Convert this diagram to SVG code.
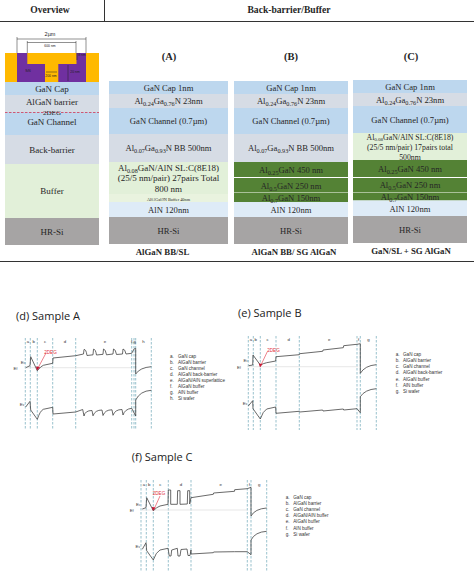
<svg xmlns="http://www.w3.org/2000/svg" width="474" height="572" viewBox="0 0 474 572">
<style>
text{font-family:"Liberation Serif","Times New Roman",serif;fill:#262626;text-anchor:middle}
.t{font-size:8.6px}
.o{font-size:9px}
.b{font-size:8.8px;font-weight:bold}
.h{font-size:9.6px;font-weight:bold}
.p{font-size:10.5px;font-weight:bold}
.s{font-size:6.2px;baseline-shift:-1.6px}
.cap{fill:#bdd7ee}.bar{fill:#d6dce5}.buf{fill:#e2f0d9}.aln{fill:#deebf7}.si{fill:#a6a4a4}.grn{fill:#548235}
.rule{stroke:#333;stroke-width:1;fill:none}
.title{font-family:"Open Sans",sans-serif;font-size:11px;text-anchor:start;fill:#222}
.lg{font-family:"Liberation Sans",Arial,sans-serif;font-size:4.6px;text-anchor:start;fill:#333}
.lb{font-family:"Liberation Sans",Arial,sans-serif;font-size:4.4px;fill:#333}
.sm{font-family:"Liberation Sans",Arial,sans-serif;font-size:3.4px;fill:#222}
.dash{stroke:#6fa8b8;stroke-width:.7;stroke-dasharray:2.5 1.5;fill:none}
.curve{stroke:#444;stroke-width:.8;fill:none}
.ef{stroke:#ddd;stroke-width:.7;fill:none}
.red{stroke:#e03040;stroke-width:.6;fill:none}
.rt{font-family:"Liberation Sans",Arial,sans-serif;font-size:4.6px;fill:#e03040}
</style>
<g id="table-rules">
<path class="rule" d="M0 21.5H474M104.500 0V21M0 261.500H474"/>
<text class="h" x="50" y="12.500">Overview</text>
<text class="h" x="289" y="13">Back-barrier/Buffer</text>
</g>
<g id="overview">
<rect x="5" y="53" width="94" height="29" fill="#ffb900"/>
<path fill="#7030a0" d="M17 53H27.300V64H45V82H17ZM76.500 53H86V82H58.300V64H76.500Z"/>
<path d="M17 39H86M27.300 42.500H76M17 37V53M86 37V53M27.300 41V53M76 41V53M46 72H57M68 65V81M77 53V60" stroke="#222" stroke-width=".5" fill="none"/>
<text x="50" y="36" style="font-family:'Liberation Sans',sans-serif;font-size:5.500px">2µm</text>
<text class="sm" x="50" y="46.500">600 nm</text>
<text class="sm" x="51" y="77">200 nm</text>
<text class="sm" x="28" y="72">SiN</text>
<text class="sm" x="75" y="73">20 nm</text>
<text class="sm" x="82" y="56">8 nm</text>
<rect class="cap" x="5" y="82" width="94" height="13"/>
<rect class="bar" x="5" y="95" width="94" height="17"/>
<rect class="cap" x="5" y="112" width="94" height="23"/>
<rect class="bar" x="5" y="135" width="94" height="29"/>
<rect class="buf" x="5" y="164" width="94" height="54"/>
<rect class="si" x="5" y="218" width="94" height="27"/>
<path d="M5 112.500H99" stroke="#d8203c" stroke-width=".7" stroke-dasharray="2.500 1.500"/>
<text class="o" x="52" y="91.500">GaN Cap</text>
<text class="o" x="52" y="104.500">AlGaN barrier</text>
<text class="t" x="52" y="115" style="font-size:7px">2DEG</text>
<text class="o" x="52" y="125">GaN Channel</text>
<text class="o" x="52" y="153">Back-barrier</text>
<text class="o" x="52" y="194">Buffer</text>
<text class="o" x="52" y="235">HR-Si</text>
</g>
<g id="stack-a">
<text class="p" x="169" y="60">(A)</text>
<rect class="cap" x="109" y="81" width="119" height="13"/>
<rect class="bar" x="109" y="94" width="119" height="14"/>
<rect class="cap" x="109" y="108" width="119" height="26"/>
<rect class="bar" x="109" y="134" width="119" height="28"/>
<rect class="buf" x="109" y="162" width="119" height="32"/>
<rect x="109" y="194" width="119" height="8" fill="#e9f3df"/>
<rect class="aln" x="109" y="202" width="119" height="15"/>
<rect class="si" x="109" y="217" width="119" height="27"/>
<text class="t" x="168.500" y="91">GaN Cap 1nm</text>
<text class="t" x="168.500" y="104">Al<tspan class="s">0.24</tspan>Ga<tspan class="s">0.76</tspan>N 23nm</text>
<text class="t" x="168.500" y="123.500">GaN Channel (0.7µm)</text>
<text class="t" x="168.500" y="150.500">Al<tspan class="s">0.07</tspan>Ga<tspan class="s">0.93</tspan>N BB 500nm</text>
<text class="t" x="168.500" y="170.500" style="font-size:9px">Al<tspan class="s">0.08</tspan>GaN/AlN SL:C(8E18)</text>
<text class="t" x="168.500" y="181" style="font-size:9px">(25/5 nm/pair) 27pairs Total</text>
<text class="t" x="168.500" y="192" style="font-size:9px">800 nm</text>
<text class="t" x="168.500" y="200.500" style="font-size:4.300px">Al<tspan style="font-size:3px">0.1</tspan>Ga<tspan style="font-size:3px">0.9</tspan>N Buffer 40nm</text>
<text class="t" x="168.500" y="213">AlN 120nm</text>
<text class="t" x="168.500" y="233.500">HR-Si</text>
<text class="b" x="162.500" y="254.500">AlGaN BB/SL</text>
</g>
<g id="stack-b">
<text class="p" x="291" y="60">(B)</text>
<rect class="cap" x="234" y="81" width="114" height="13"/>
<rect class="bar" x="234" y="94" width="114" height="14"/>
<rect class="cap" x="234" y="108" width="114" height="26"/>
<rect class="bar" x="234" y="134" width="114" height="28"/>
<rect class="grn" x="234" y="162" width="114" height="15"/>
<rect class="grn" x="234" y="178" width="114" height="14.500"/>
<rect class="grn" x="234" y="193" width="114" height="9"/>
<rect class="aln" x="234" y="202" width="114" height="15"/>
<rect class="si" x="234" y="217" width="114" height="27"/>
<text class="t" x="291" y="91">GaN Cap 1nm</text>
<text class="t" x="291" y="104">Al<tspan class="s">0.24</tspan>Ga<tspan class="s">0.76</tspan>N 23nm</text>
<text class="t" x="291" y="123.500">GaN Channel (0.7µm)</text>
<text class="t" x="291" y="150.500">Al<tspan class="s">0.07</tspan>Ga<tspan class="s">0.93</tspan>N BB 500nm</text>
<text class="t" x="291" y="173">Al<tspan class="s">0.25</tspan>GaN 450 nm</text>
<text class="t" x="291" y="188.500">Al<tspan class="s">0.5</tspan>GaN 250 nm</text>
<text class="t" x="291" y="200.500">Al<tspan class="s">0.7</tspan>GaN 150nm</text>
<text class="t" x="291" y="213">AlN 120nm</text>
<text class="t" x="291" y="233.500">HR-Si</text>
<text class="b" x="294" y="254.500">AlGaN BB/ SG AlGaN</text>
</g>
<g id="stack-c">
<text class="p" x="411" y="60">(C)</text>
<rect class="cap" x="353" y="80" width="114" height="13"/>
<rect class="bar" x="353" y="93" width="114" height="13"/>
<rect class="cap" x="353" y="106" width="114" height="27"/>
<rect class="buf" x="353" y="133" width="114" height="27"/>
<rect class="grn" x="353" y="160" width="114" height="17"/>
<rect class="grn" x="353" y="178" width="114" height="14"/>
<rect class="grn" x="353" y="192.500" width="114" height="8"/>
<rect class="aln" x="353" y="200.500" width="114" height="15.500"/>
<rect class="si" x="353" y="216" width="114" height="27"/>
<text class="t" x="410" y="90">GaN Cap 1nm</text>
<text class="t" x="410" y="103">Al<tspan class="s">0.24</tspan>Ga<tspan class="s">0.76</tspan>N 23nm</text>
<text class="t" x="410" y="122.500">GaN Channel (0.7µm)</text>
<text class="t" x="410" y="140" style="font-size:7.800px">Al<tspan style="font-size:5px;baseline-shift:-1.400px">0.08</tspan>GaN/AlN SL:C(8E18)</text>
<text class="t" x="410" y="150" style="font-size:7.800px">(25/5 nm/pair) 17pairs total</text>
<text class="t" x="410" y="159.500" style="font-size:7.800px">500nm</text>
<text class="t" x="410" y="172">Al<tspan class="s">0.25</tspan>GaN 450 nm</text>
<text class="t" x="410" y="187.500">Al<tspan class="s">0.5</tspan>GaN 250 nm</text>
<text class="t" x="410" y="199.500">Al<tspan class="s">0.7</tspan>GaN 150nm</text>
<text class="t" x="410" y="211.500">AlN 120nm</text>
<text class="t" x="410" y="232.500">HR-Si</text>
<text class="b" x="411" y="253.500">GaN/SL + SG AlGaN</text>
</g>
<g id="plot-a">
<text class="title" x="16" y="320">(d) Sample A</text>
<path class="dash" d="M25.300 338V430M30.300 338V430M37.300 338V430M52.700 338V430M75.700 338V430M131.700 338V430M134 338V430M135.700 338V430M151.300 338V430"/>
<path class="ef" d="M25 367.700H131"/>
<g class="lb"><text class="lb" x="28" y="343">a</text><text class="lb" x="33.700" y="343">b</text><text class="lb" x="45" y="343">c</text><text class="lb" x="65" y="343">d</text><text class="lb" x="105" y="343">e</text><text class="lb" x="133.500" y="343">f,g</text><text class="lb" x="143.500" y="343">h</text><text class="lb" x="23" y="364">E<tspan style="font-size:3px">c</tspan></text><text class="lb" x="15.500" y="370">E<tspan style="font-size:3px">f</tspan></text><text class="lb" x="22" y="406">E<tspan style="font-size:3px">v</tspan></text></g>
<path class="curve" d="M25.700 367.700L30 365.700L30.700 356.700L37.300 370.700Q41 366 43.300 365.300L52.700 363.300L53 358L75.700 355.700L83.500 354L84 349.500Q86 349 87 355.500L93 354.800L93.500 349.200Q95.500 349 96.500 355L103 354.300L103.500 349Q105.500 349 106.500 354.800L113 354L113.500 349Q115.500 349 116.500 354.500L122.500 354L123 349Q125 349 126 354L131.700 353.300L134 349L135.700 348.300V374Q140 367.500 151.300 366.700"/>
<path class="curve" d="M25.700 407L30 401.300L30.700 410L37.300 419.300Q40 411 43.300 409.300L52.700 407.300L53 414L75.700 412L82.700 409.500L84 416Q85 410.500 92 410.500L93 415.800Q95 410 102 410L103 415.500Q105 409.800 112 409.800L113 415.300Q115 409.500 122 409.500L123 415Q125 409 131.700 408.300L135.700 416V400Q140 391 151.300 390.300"/>
<path d="M37 370.500L36 366.500L40 367Z" fill="#c01030"/>
<path class="red" d="M46 353L38 368"/>
<text class="rt" x="50.500" y="353.500">2DEG</text>
</g>
<g id="legend-a">
<text class="lg" x="170" y="357.500">a.</text><text class="lg" x="178" y="357.500">GaN cap</text>
<text class="lg" x="170" y="363.500">b.</text><text class="lg" x="178" y="363.500">AlGaN barrier</text>
<text class="lg" x="170" y="369.700">c.</text><text class="lg" x="178" y="369.700">GaN channel</text>
<text class="lg" x="170" y="375.800">d.</text><text class="lg" x="178" y="375.800">AlGaN back-barrier</text>
<text class="lg" x="170" y="381.900">e.</text><text class="lg" x="178" y="381.900">AlGaN/AlN superlattice</text>
<text class="lg" x="170" y="388">f.</text><text class="lg" x="178" y="388">AlGaN buffer</text>
<text class="lg" x="170" y="394.100">g.</text><text class="lg" x="178" y="394.100">AlN buffer</text>
<text class="lg" x="170" y="400.200">h.</text><text class="lg" x="178" y="400.200">Si wafer</text>
</g>
<g id="plot-b">
<text class="title" x="238" y="317">(e) Sample B</text>
<path class="dash" d="M248.300 336V430M253.300 336V430M260.300 336V430M276 336V430M299.300 336V430M357 336V430M360.300 336V430M376.300 336V430"/>
<path class="ef" d="M247 366.700H358"/>
<text class="lb" x="251" y="341">a</text><text class="lb" x="255.700" y="341">b</text><text class="lb" x="267.700" y="341">c</text><text class="lb" x="288.700" y="341">d</text><text class="lb" x="329.300" y="341">e</text><text class="lb" x="358.500" y="341">f</text><text class="lb" x="368.500" y="341">g</text><text class="lb" x="245.700" y="362">E<tspan style="font-size:3px">c</tspan></text><text class="lb" x="239" y="369">E<tspan style="font-size:3px">f</tspan></text><text class="lb" x="245" y="405">E<tspan style="font-size:3px">v</tspan></text>
<path class="curve" d="M248.700 365.700L252.700 365L253 355L260.300 365Q263 363.500 266.700 362.700L275.700 361L276 356.700L299.300 354.700L299.600 353.700L322.700 351.300L323 350L343.300 347.700L343.700 345.700L357 344.300L360.300 343.700V373.300Q365 365.500 376.300 364.700"/>
<path class="curve" d="M248.300 406L252.700 400.700L253 408.700L260.300 419Q263 411 266.700 409L275.700 407L276 413.300L299.300 411.300L299.600 412L322.700 410L323 411L343.300 409L343.700 410L357 408.700L360.300 412.700V396.700Q365 389.500 376.300 388.700"/>
<path d="M260 367.500L258.800 363.500L262.500 364Z" fill="#c01030"/>
<path class="red" d="M267.300 351.700L260.500 366"/>
<text class="rt" x="273.500" y="351.500">2DEG</text>
</g>
<g id="legend-b">
<text class="lg" x="395.700" y="355.800">a.</text><text class="lg" x="403" y="355.800">GaN cap</text>
<text class="lg" x="395.700" y="362">b.</text><text class="lg" x="403" y="362">AlGaN barrier</text>
<text class="lg" x="395.700" y="368.200">c.</text><text class="lg" x="403" y="368.200">GaN channel</text>
<text class="lg" x="395.700" y="374.400">d.</text><text class="lg" x="403" y="374.400">AlGaN back-barrier</text>
<text class="lg" x="395.700" y="380.600">e.</text><text class="lg" x="403" y="380.600">AlGaN buffer</text>
<text class="lg" x="395.700" y="386.800">f.</text><text class="lg" x="403" y="386.800">AlN buffer</text>
<text class="lg" x="395.700" y="393">g.</text><text class="lg" x="403" y="393">Si wafer</text>
</g>
<g id="plot-c">
<text class="title" x="131.700" y="461">(f) Sample C</text>
<path class="dash" d="M141 480V571M146.300 480V571M153.300 480V571M168.300 480V571M191 480V571M247.300 480V571M251 480V571M266.700 480V571"/>
<path class="ef" d="M142 510H247"/>
<text class="lb" x="144" y="485.500">a</text><text class="lb" x="149.300" y="485.500">b</text><text class="lb" x="160.300" y="485.500">c</text><text class="lb" x="181" y="485.500">d</text><text class="lb" x="220.700" y="485.500">e</text><text class="lb" x="249.300" y="485.500">f</text><text class="lb" x="259.300" y="485.500">g</text><text class="lb" x="138.300" y="505.500">E<tspan style="font-size:3px">c</tspan></text><text class="lb" x="131.700" y="511.500">E<tspan style="font-size:3px">f</tspan></text><text class="lb" x="137.700" y="547.500">E<tspan style="font-size:3px">v</tspan></text>
<path class="curve" d="M142.300 509L146 507.700L146.700 497.700L153.300 510.700Q157 507 160 506L168 504.300L168.300 490H170.700V504.300L177.300 504.300L177.600 490.700H180V504.300L187.300 504L187.700 490.700H189.700V504L191 497.700L213.300 494.300L213.600 493L234.500 491.300L234.700 489.700L247.300 488.700L251 487.300V516Q255 508.800 266.700 508"/>
<path class="curve" d="M142.300 549.300L146 542.700L146.700 550.700L153.300 560Q156 552 160 550L168 548.300L169.300 556H171L171.700 550L177.300 548.300L178 556H180L181 549.500L187 549L188 555.500H190L191 550V554L213.300 552.700L213.600 552L234.500 551.700L247.300 551.700L251 554.700V540Q255 532 266.700 531.300"/>
<path d="M153 511L151.800 507L155.500 507.500Z" fill="#c01030"/>
<path class="red" d="M160 496L154 509.300"/>
<text class="rt" x="159" y="494.500">2DEG</text>
</g>
<g id="legend-c">
<text class="lg" x="285.700" y="499">a.</text><text class="lg" x="293.300" y="499">GaN cap</text>
<text class="lg" x="285.700" y="505.100">b.</text><text class="lg" x="293.300" y="505.100">AlGaN barrier</text>
<text class="lg" x="285.700" y="511.200">c.</text><text class="lg" x="293.300" y="511.200">GaN channel</text>
<text class="lg" x="285.700" y="517.300">d.</text><text class="lg" x="293.300" y="517.300">AlGaN/AlN buffer</text>
<text class="lg" x="285.700" y="523.400">e.</text><text class="lg" x="293.300" y="523.400">AlGaN buffer</text>
<text class="lg" x="285.700" y="529.500">f.</text><text class="lg" x="293.300" y="529.500">AlN buffer</text>
<text class="lg" x="285.700" y="535.600">g.</text><text class="lg" x="293.300" y="535.600">Si wafer</text>
</g>
</svg>
